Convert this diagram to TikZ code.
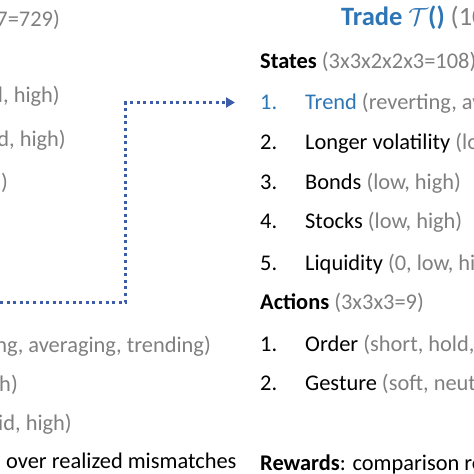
\documentclass[tikz,border=0pt]{standalone}
\usepackage{fontspec}
\setmainfont{Carlito}
\usetikzlibrary{arrows.meta}
\definecolor{tblue}{HTML}{2E75B6}
\definecolor{tgrey}{HTML}{7F7F7F}
\definecolor{ablue}{HTML}{3D5DA8}
\tikzset{
  txt/.style={inner sep=0pt, anchor=base west, font=\fontsize{22.4bp}{26bp}\selectfont},
  ltxt/.style={txt, anchor=base east},
  big/.style={inner sep=0pt, anchor=base west, font=\fontsize{26.5bp}{30bp}\selectfont},
  dotarrow/.style={ablue, line width=3bp, dash pattern=on 3bp off 3.6bp, -{Triangle[length=9bp,width=10bp]}}
}
\begin{document}
\begin{tikzpicture}[x=1bp,y=-1bp]
\useasboundingbox (0,0) rectangle (474,474);
% left panel (cropped)
\node[ltxt, text=tgrey] (l0) at (60,27) {7=729)};
\node[ltxt, text=tgrey] (l1) at (60,103) {l, high)};
\node[ltxt, text=tgrey] (l2) at (66,147) {d, high)};
\node[ltxt, text=tgrey] (l3) at (8,190) {)};
\node[ltxt, text=tgrey] (l4) at (211,352) {ng, averaging, trending)};
\node[ltxt, text=tgrey] (l5) at (18,391) {h)};
\node[ltxt, text=tgrey] (l6) at (72,430) {id, high)};
\node[txt] (l7) at (6,468) {over realized mismatches};
% right panel
\node[big] (title) at (341,26) {\textcolor{tblue}{\textbf{Trade} $\mathcal{T}$\textbf{()}} \textcolor{tgrey}{(10}};
\node[txt] (states) at (260,69) {\textbf{States} \textcolor{tgrey}{(3x3x2x2x3=108)}};
\node[txt, text=tblue] (n1) at (260,110) {1.};
\node[txt] (s1) at (305,110) {\textcolor{tblue}{Trend} \textcolor{tgrey}{(reverting, av}};
\node[txt] (n2) at (260,150) {2.};
\node[txt] (s2) at (305,150) {Longer volatility \textcolor{tgrey}{(low}};
\node[txt] (n3) at (260,190) {3.};
\node[txt] (s3) at (305,190) {Bonds \textcolor{tgrey}{(low, high)}};
\node[txt] (n4) at (260,229) {4.};
\node[txt] (s4) at (305,229) {Stocks \textcolor{tgrey}{(low, high)}};
\node[txt] (n5) at (260,270) {5.};
\node[txt] (s5) at (305,270) {Liquidity \textcolor{tgrey}{(0, low, hig}};
\node[txt] (actions) at (260,309) {\textbf{Actions} \textcolor{tgrey}{(3x3x3=9)}};
\node[txt] (n6) at (260,351) {1.};
\node[txt] (a1) at (305,351) {Order \textcolor{tgrey}{(short, hold, l}};
\node[txt] (n7) at (260,390) {2.};
\node[txt] (a2) at (305,390) {Gesture \textcolor{tgrey}{(soft, neutr}};
\node[txt] (rewards) at (260,470) {\textbf{Rewards}: comparison re};
% dotted connector
\coordinate (src) at (0,302.5);
\coordinate (tip) at (235,102.5);
\draw[dotarrow] (src) -- (125.5,302.5) -- (125.5,102.5) -- (tip);
\end{tikzpicture}
\end{document}
